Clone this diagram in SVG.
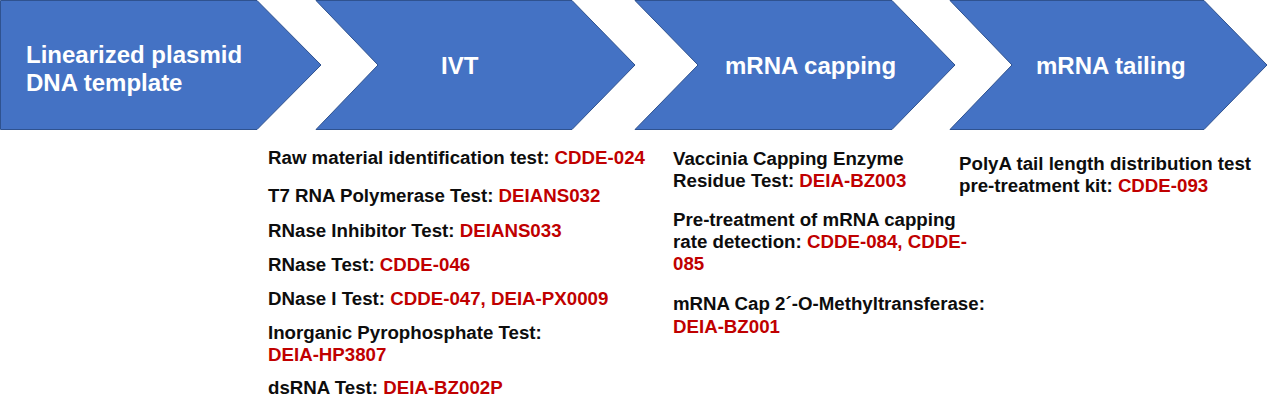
<svg xmlns="http://www.w3.org/2000/svg" width="1269" height="403" viewBox="0 0 1269 403">
<style>
.step{fill:#4472C4;stroke:#2F528F;stroke-width:1}
.lbl{font-family:"Liberation Sans",Arial,sans-serif;font-weight:bold;font-size:24px;fill:#FFFFFF}
.t{font-family:"Liberation Sans",Arial,sans-serif;font-weight:bold;font-size:18.7px;fill:#0D0D0D}
.r{fill:#C00000}
</style>
<rect width="1269" height="403" fill="#FFFFFF"/>
<g id="step1">
<polygon class="step" points="0.5,0.5 257,0.5 321,65 257,129.5 0.5,129.5"/>
<text class="lbl" x="26" y="63">Linearized plasmid</text>
<text class="lbl" x="26" y="91">DNA template</text>
</g>
<g id="step2">
<polygon class="step" points="316,0.5 572,0.5 635,65 572,129.5 316,129.5 378,65"/>
<text class="lbl" x="441" y="74">IVT</text>
</g>
<g id="step3">
<polygon class="step" points="635,0.5 892,0.5 955,65 892,129.5 635,129.5 698,65"/>
<text class="lbl" x="725" y="74">mRNA capping</text>
</g>
<g id="step4">
<polygon class="step" points="950,0.5 1204,0.5 1267,65 1204,129.5 950,129.5 1012,65"/>
<text class="lbl" x="1036" y="74">mRNA tailing</text>
</g>
<g id="connectors"></g>
<g id="ivt-tests">
<text class="t" x="268" y="164">Raw material identification test: <tspan class="r">CDDE-024</tspan></text>
<text class="t" x="268" y="202">T7 RNA Polymerase Test: <tspan class="r">DEIANS032</tspan></text>
<text class="t" x="268" y="237">RNase Inhibitor Test: <tspan class="r">DEIANS033</tspan></text>
<text class="t" x="268" y="271">RNase Test: <tspan class="r">CDDE-046</tspan></text>
<text class="t" x="268" y="305">DNase I Test: <tspan class="r">CDDE-047, DEIA-PX0009</tspan></text>
<text class="t" x="268" y="339">Inorganic Pyrophosphate Test:</text>
<text class="t r" x="268" y="361">DEIA-HP3807</text>
<text class="t" x="268" y="394">dsRNA Test: <tspan class="r">DEIA-BZ002P</tspan></text>
</g>
<g id="capping-tests">
<text class="t" x="673" y="164.5">Vaccinia Capping Enzyme</text>
<text class="t" x="673" y="187">Residue Test: <tspan class="r">DEIA-BZ003</tspan></text>
<text class="t" x="673" y="225.5">Pre-treatment of mRNA capping</text>
<text class="t" x="673" y="247.5">rate detection: <tspan class="r">CDDE-084, CDDE-</tspan></text>
<text class="t r" x="673" y="270">085</text>
<text class="t" x="673" y="310">mRNA Cap 2´-O-Methyltransferase:</text>
<text class="t r" x="673" y="333">DEIA-BZ001</text>
</g>
<g id="tailing-tests">
<text class="t" x="959" y="169.5">PolyA tail length distribution test</text>
<text class="t" x="959" y="192">pre-treatment kit: <tspan class="r">CDDE-093</tspan></text>
</g>
</svg>
